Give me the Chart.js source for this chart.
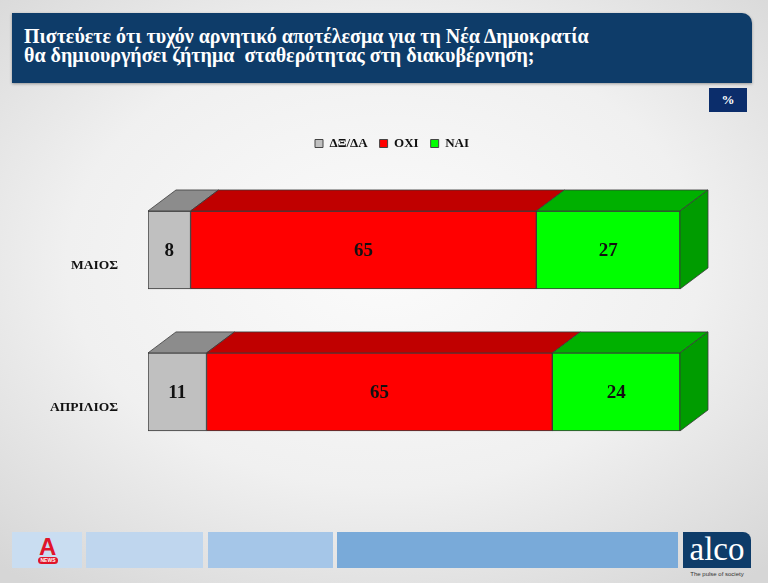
<!DOCTYPE html>
<html>
<head>
<meta charset="utf-8">
<script src="https://cdn.jsdelivr.net/npm/chart.js@4"></script>
<style>
  html, body { margin: 0; padding: 0; }
  body {
    width: 768px; height: 583px; overflow: hidden; position: relative;
    background: radial-gradient(ellipse 75% 70% at 50% 45%, #fbfbfb 0%, #f0f0f0 55%, #d6d6d6 100%);
    font-family: "Liberation Serif", "DejaVu Serif", serif;
  }
  #title {
    position: absolute; left: 12px; top: 13px; width: 740px; height: 70px;
    background: #0e3c69; border-top-right-radius: 10px;
    box-shadow: 0 1px 3px rgba(0,0,0,0.35);
    color: #fff; font-weight: bold; font-size: 20px; line-height: 19px;
    box-sizing: border-box; padding: 14px 0 0 12px;
  }
  #pct {
    position: absolute; left: 709px; top: 88px; width: 38px; height: 24px;
    background: #0b2d6b; color: #fff; font-weight: bold; font-size: 13px;
    text-align: center; line-height: 24px;
  }
  #wrap { position: absolute; left: 0; top: 120px; width: 768px; height: 373px; }
  .fb { position: absolute; top: 532px; height: 36px; }
  #logo { left: 12px; width: 70px; background: #c9ddf1; }
  #logo .a { position: absolute; left: 27px; top: 1px; color: #e0142a; font: bold 24px "Liberation Sans", sans-serif; }
  #logo .n { position: absolute; left: 26px; top: 25px; width: 20px; height: 7px; border-radius: 4px; background: #e0142a;
             color: #fff; font: bold 5px "Liberation Sans", sans-serif; text-align: center; line-height: 7px; }
  #alco { left: 683px; width: 68px; background: #0e3c69; border-top-right-radius: 8px;
          color: #fff; font-size: 33px; text-align: center; line-height: 34px; }
  #tag { position: absolute; left: 683px; top: 571px; width: 68px; text-align: center;
         font: 6px "Liberation Sans", sans-serif; color: #333; }
</style>
</head>
<body>
<div id="title">Πιστεύετε ότι τυχόν αρνητικό αποτέλεσμα για τη Νέα Δημοκρατία<br>θα δημιουργήσει ζήτημα&nbsp; σταθερότητας στη διακυβέρνηση;</div>
<div id="pct">%</div>
<div id="wrap"><canvas id="chart"></canvas></div>
<div class="fb" id="logo"><span class="a">A</span><span class="n">NEWS</span></div>
<div class="fb" style="left:86px;width:117px;background:#bfd6ee"></div>
<div class="fb" style="left:208px;width:125px;background:#a5c6e8"></div>
<div class="fb" style="left:337px;width:341px;background:#79aad9"></div>
<div class="fb" id="alco">alco</div>
<div id="tag">The pulse of society</div>
<script>
const categories = ['ΜΑΙΟΣ', 'ΑΠΡΙΛΙΟΣ'];
const seriesNames = ['ΔΞ/ΔΑ', 'ΟΧΙ', 'ΝΑΙ'];
const dkValues = [8, 11];
const noValues = [65, 65];
const yesValues = [27, 24];

const frontColors = ['#c0c0c0', '#ff0000', '#00ff00'];
const topColors = ['#8c8c8c', '#c00000', '#00b000'];
const sideColors = ['#777777', '#a00000', '#009c00'];
const DX = 28, DY = 21;

// 3D faces (top of each segment, right side of the last one) + value labels
const bar3d = {
    id: 'bar3d',
    afterDatasetsDraw(chart) {
        const ctx = chart.ctx;
        const last = chart.data.datasets.length - 1;
        ctx.save();
        ctx.strokeStyle = '#3a3a3a';
        ctx.lineWidth = 0.8;
        chart.data.datasets.forEach(function(ds, di) {
            chart.getDatasetMeta(di).data.forEach(function(bar) {
                const p = bar.getProps(['x', 'y', 'base', 'height'], true);
                const top = p.y - p.height / 2, bottom = p.y + p.height / 2;
                ctx.beginPath();
                ctx.moveTo(p.base, top);
                ctx.lineTo(p.base + DX, top - DY);
                ctx.lineTo(p.x + DX, top - DY);
                ctx.lineTo(p.x, top);
                ctx.closePath();
                ctx.fillStyle = topColors[di];
                ctx.fill();
                ctx.stroke();
                if (di === last) {
                    ctx.beginPath();
                    ctx.moveTo(p.x, top);
                    ctx.lineTo(p.x + DX, top - DY);
                    ctx.lineTo(p.x + DX, bottom - DY);
                    ctx.lineTo(p.x, bottom);
                    ctx.closePath();
                    ctx.fillStyle = sideColors[di];
                    ctx.fill();
                    ctx.stroke();
                }
            });
        });
        ctx.fillStyle = '#111';
        ctx.font = 'bold 19px "Liberation Serif"';
        ctx.textAlign = 'center';
        ctx.textBaseline = 'middle';
        chart.data.datasets.forEach(function(ds, di) {
            chart.getDatasetMeta(di).data.forEach(function(bar, i) {
                const p = bar.getProps(['x', 'y', 'base'], true);
                ctx.fillText(ds.data[i], (p.x + p.base) / 2, p.y + 1);
            });
        });
        ctx.restore();
    }
};

const values = [dkValues, noValues, yesValues];
const config = {
    type: 'bar',
    data: {
        labels: categories,
        datasets: seriesNames.map(function(name, i) {
            return {
                label: name,
                data: values[i],
                backgroundColor: frontColors[i],
                borderColor: '#3a3a3a',
                borderWidth: 1,
                borderSkipped: false,
                barThickness: 78
            };
        })
    },
    options: {
        indexAxis: 'y',
        responsive: true,
        maintainAspectRatio: false,
        animation: false,
        layout: { padding: { top: 5, bottom: 7, left: 16, right: 0 } },
        scales: {
            x: {
                stacked: true, min: 0, max: 100, position: 'top',
                ticks: { display: false }, grid: { display: false }, border: { display: false },
                afterFit: function(s) { s.height = 19; }
            },
            y: {
                stacked: true,
                grid: { display: false }, border: { display: false },
                ticks: {
                    color: '#111', padding: 22, labelOffset: 16,
                    font: { family: 'Liberation Serif', size: 13.5, weight: 'bold' }
                },
                afterFit: function(s) { s.width = 132; }
            },
            yRight: {
                type: 'linear', position: 'right', display: true,
                ticks: { display: false }, grid: { display: false }, border: { display: false },
                afterFit: function(s) { s.width = 88; }
            }
        },
        plugins: {
            legend: {
                labels: {
                    boxWidth: 8, boxHeight: 8, padding: 12, color: '#111',
                    font: { family: 'Liberation Serif', size: 13, weight: 'bold' },
                    generateLabels: function(chart) {
                        return chart.data.datasets.map(function(ds, i) {
                            return { text: ds.label, fillStyle: frontColors[i], strokeStyle: '#444',
                                     lineWidth: 1, datasetIndex: i, fontColor: '#111' };
                        });
                    }
                }
            },
            tooltip: { enabled: false }
        }
    },
    plugins: [bar3d]
};

window.onload = function() {
    let ctx = document.getElementById('chart').getContext('2d');
    window.myBar = new Chart(ctx, config);
};
</script>
</body>
</html>
